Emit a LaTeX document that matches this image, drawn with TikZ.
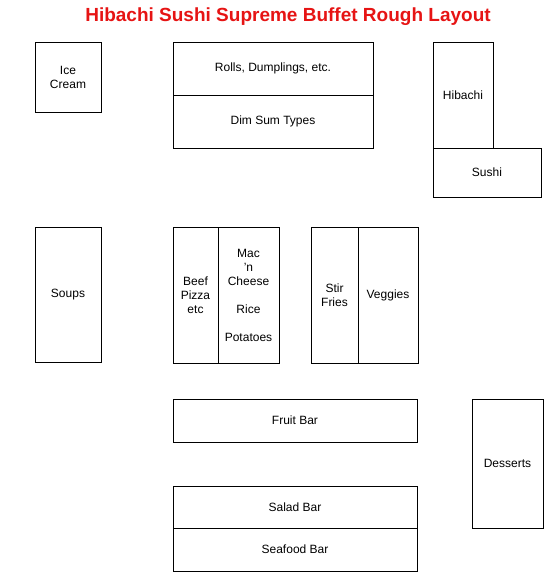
\documentclass[tikz,border=0pt]{standalone}
\usepackage{fontspec}
\setmainfont{Liberation Sans}
\usepackage{xcolor}
\usetikzlibrary{positioning}

\definecolor{titlered}{RGB}{230,20,20}

\begin{document}
\begin{tikzpicture}[
  x=1pt, y=-1pt,
  stall/.style={draw, rectangle, line width=0.9pt, inner sep=0pt, outer sep=0pt, align=center, anchor=north west, font=\fontsize{12}{14}\selectfont},
  heading/.style={font=\bfseries\fontsize{19}{23}\selectfont, text=titlered},
]
\useasboundingbox (0,0) rectangle (553,584);

% Title
\node[heading] (title) at (288,17) {Hibachi Sushi Supreme Buffet Rough Layout};

% Top row
\node[stall, minimum width=66pt, minimum height=70pt] (icecream) at (35,42) {Ice\\Cream};
\node[stall, minimum width=200pt, minimum height=53pt] (rolls) at (173,42) {Rolls, Dumplings, etc.};
\node[stall, minimum width=200pt, minimum height=53pt, below=0pt of rolls] (dimsum) {Dim Sum Types};
\node[stall, minimum width=60pt, minimum height=106pt] (hibachi) at (433,42) {Hibachi};
\node[stall, minimum width=108pt, minimum height=49pt, below=0pt of hibachi.south west, anchor=north west] (sushi) {Sushi};

% Middle row
\node[stall, minimum width=66pt, minimum height=135pt] (soups) at (35,227) {Soups};
\node[stall, minimum width=45pt, minimum height=136pt] (beef) at (173,227) {Beef\\Pizza\\etc};
\node[stall, minimum width=61pt, minimum height=136pt, right=0pt of beef] (mac) {Mac\\'n\\Cheese\\[14pt]Rice\\[14pt]Potatoes};
\node[stall, minimum width=47pt, minimum height=136pt] (stirfry) at (311,227) {Stir\\Fries};
\node[stall, minimum width=60pt, minimum height=136pt, right=0pt of stirfry] (veggies) {Veggies};

% Bottom rows
\node[stall, minimum width=244pt, minimum height=43pt] (fruit) at (173,399) {Fruit Bar};
\node[stall, minimum width=71pt, minimum height=129pt] (desserts) at (472,399) {Desserts};
\node[stall, minimum width=244pt, minimum height=42pt] (salad) at (173,486) {Salad Bar};
\node[stall, minimum width=244pt, minimum height=43pt, below=0pt of salad] (seafood) {Seafood Bar};

\end{tikzpicture}
\end{document}
